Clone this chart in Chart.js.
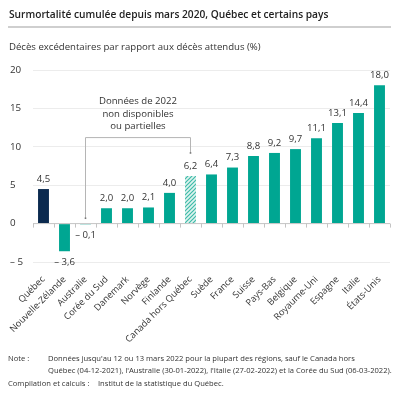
<!DOCTYPE html>
<html>
<head>
<meta charset="utf-8">
<script src="https://cdn.jsdelivr.net/npm/chart.js@4"></script>
<style>
  body { margin: 0; background: #fff; font-family: "Open Sans", sans-serif; color: #333; }
  #wrap { position: relative; width: 400px; height: 400px; overflow: hidden; }
  #chart { position: absolute; left: 0; top: 0; }
  .t { position: absolute; white-space: nowrap; }
  #title { left: 9px; top: 7px; font-size: 10.2px; font-weight: 600; color: #222; }
  #rule { position: absolute; left: 8px; top: 26px; width: 383px; height: 2px; background: #cfcfcf; }
  #sub { left: 9px; top: 40px; font-size: 9.6px; }
  .n { font-size: 7.6px; color: #333; }
</style>
</head>
<body>
<div id="wrap">
  <canvas id="chart" width="400" height="400"></canvas>
  <div class="t" id="title">Surmortalité cumulée depuis mars 2020, Québec et certains pays</div>
  <div id="rule"></div>
  <div class="t" id="sub">Décès excédentaires par rapport aux décès attendus (%)</div>
  <div class="t n" style="left:8px;top:353px">Note :</div>
  <div class="t n" style="left:48px;top:353px">Données jusqu'au 12 ou 13 mars 2022 pour la plupart des régions, sauf le Canada hors</div>
  <div class="t n" style="left:48px;top:365px">Québec (04-12-2021), l'Australie (30-01-2022), l'Italie (27-02-2022) et la Corée du Sud (06-03-2022).</div>
  <div class="t n" style="left:8px;top:378px">Compilation et calculs :</div>
  <div class="t n" style="left:98px;top:378px">Institut de la statistique du Québec.</div>
</div>
<script>
// data
const pays = ["Québec", "Nouvelle-Zélande", "Australie", "Corée du Sud", "Danemark", "Norvège",
  "Finlande", "Canada hors Québec", "Suède", "France", "Suisse", "Pays-Bas", "Belgique",
  "Royaume-Uni", "Espagne", "Italie", "États-Unis"];
const surmortalite = [4.5, -3.6, -0.1, 2.0, 2.0, 2.1, 4.0, 6.2, 6.4, 7.3, 8.8, 9.2, 9.7, 11.1, 13.1, 14.4, 18.0];
const yTicks = [-5, 0, 5, 10, 15, 20];

// bracket note: from Australie to Canada hors Québec
const noteLines = ["Données de 2022", "non disponibles", "ou partielles"];
const noteFrom = 2, noteTo = 7;
const noteTop = 11.2, noteLeftEnd = 0.7, noteRightEnd = 9.2;

const teal = "#00a692";
const navy = "#0b2a4f";

function hatch() {
  let c = document.createElement("canvas");
  c.width = 4; c.height = 4;
  let g = c.getContext("2d");
  g.fillStyle = "#dff3ef";
  g.fillRect(0, 0, 4, 4);
  g.strokeStyle = "#3dbba8";
  g.lineWidth = 1.2;
  g.beginPath();
  g.moveTo(-1, 5); g.lineTo(5, -1);
  g.moveTo(-1, 1); g.lineTo(1, -1);
  g.moveTo(3, 5); g.lineTo(5, 3);
  g.stroke();
  return g.createPattern(c, "repeat");
}
const pattern = hatch();

function fmt(v) {
  let s = Math.abs(v).toFixed(1).replace(".", ",");
  return v < 0 ? "\u2013 " + s : s;
}

const colors = pays.map((p, i) => i === 0 ? navy : (p === "Canada hors Québec" ? pattern : teal));

const extras = {
  id: "extras",
  afterDatasetsDraw(chart) {
    let ctx = chart.ctx;
    let x = chart.scales.x, y = chart.scales.y;
    let area = chart.chartArea;
    let y0 = y.getPixelForValue(0);
    ctx.save();
    // zero line and ticks
    ctx.strokeStyle = "#c4c4c4";
    ctx.lineWidth = 1;
    ctx.beginPath();
    ctx.moveTo(area.left, y0); ctx.lineTo(area.right, y0);
    let w = (area.right - area.left) / pays.length;
    for (let i = 0; i <= pays.length; i++) {
      let px = Math.round(area.left + i * w) + 0.5;
      ctx.moveTo(px, y0); ctx.lineTo(px, y0 + 4);
    }
    ctx.stroke();
    // value labels
    ctx.fillStyle = "#333";
    ctx.font = "9.6px 'Open Sans'";
    ctx.textAlign = "center";
    ctx.textBaseline = "middle";
    chart.getDatasetMeta(0).data.forEach((bar, i) => {
      let v = surmortalite[i];
      let ly = v >= 0 ? bar.y - 10 : bar.y + 11;
      ctx.fillText(fmt(v), bar.x, ly);
    });
    // bracket
    let xa = x.getPixelForValue(noteFrom), xb = x.getPixelForValue(noteTo);
    let yt = y.getPixelForValue(noteTop);
    ctx.strokeStyle = "#b5b5b5";
    ctx.beginPath();
    ctx.moveTo(xa, y.getPixelForValue(noteLeftEnd));
    ctx.lineTo(xa, yt); ctx.lineTo(xb, yt);
    ctx.lineTo(xb, y.getPixelForValue(noteRightEnd));
    ctx.stroke();
    ctx.fillStyle = "#777";
    ctx.fillRect(xa - 0.8, y.getPixelForValue(noteLeftEnd) - 0.8, 1.6, 1.6);
    ctx.fillRect(xb - 0.8, y.getPixelForValue(noteRightEnd) - 0.8, 1.6, 1.6);
    ctx.fillStyle = "#333";
    ctx.font = "9.6px 'Open Sans'";
    noteLines.forEach((l, i) => ctx.fillText(l, (xa + xb) / 2, yt - 36 + i * 12.5));
    ctx.restore();
  }
};

new Chart(document.getElementById("chart"), {
  type: "bar",
  data: {
    labels: pays,
    datasets: [{
      data: surmortalite,
      backgroundColor: colors,
      barPercentage: 0.52,
      categoryPercentage: 1
    }]
  },
  options: {
    responsive: false,
    animation: false,
    layout: { padding: { top: 70, right: 10, bottom: 50, left: 10 } },
    plugins: { legend: { display: false }, tooltip: { enabled: false } },
    scales: {
      x: {
        grid: { display: false },
        border: { display: false },
        afterFit: s => { s.height = 88; },
        ticks: {
          color: "#333",
          font: { family: "Open Sans", size: 9.2 },
          maxRotation: 45, minRotation: 45,
          autoSkip: false,
          padding: 4
        }
      },
      y: {
        min: -5, max: 20,
        afterBuildTicks: s => { s.ticks = yTicks.map(v => ({ value: v })); },
        afterFit: s => { s.width = 23; },
        border: { display: false },
        grid: {
          color: c => c.tick && c.tick.value === 0 ? "rgba(0,0,0,0)" : "#ececec",
          drawTicks: false
        },
        ticks: {
          color: "#333",
          font: { family: "Open Sans", size: 9.8 },
          crossAlign: "far",
          padding: 6,
          callback: v => v < 0 ? "\u2013 " + Math.abs(v) : v
        }
      }
    }
  },
  plugins: [extras]
});
</script>
</body>
</html>
